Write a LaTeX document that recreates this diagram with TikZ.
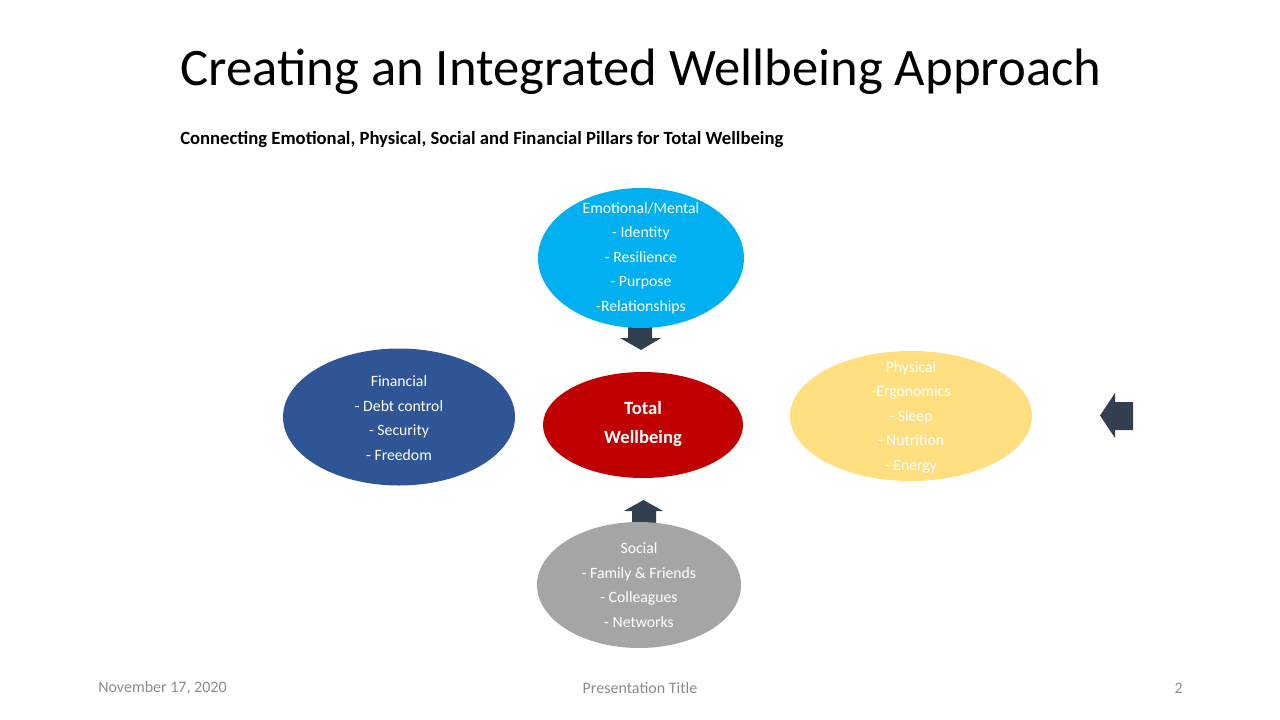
\documentclass[tikz,border=0pt]{standalone}
\usepackage{fontspec}
\setmainfont{Carlito}
\usetikzlibrary{shapes.geometric}

\definecolor{emoblu}{HTML}{00B0F0}
\definecolor{finblu}{HTML}{2F5597}
\definecolor{totrosso}{HTML}{C00000}
\definecolor{fisgiallo}{HTML}{FFDF80}
\definecolor{socgrigio}{HTML}{A5A5A5}
\definecolor{freccia}{HTML}{323F4F}
\definecolor{piede}{HTML}{8C8C8C}

\begin{document}
\begin{tikzpicture}[x=0.75pt, y=-0.75pt,
    pilastro/.style={ellipse, inner sep=0pt},
    testo/.style={inner sep=0pt, align=center, text=white,
        font=\fontsize{11.8}{18.4}\selectfont},
    piede/.style={inner sep=0pt, text=piede, font=\fontsize{12}{14}\selectfont},
    freccetta/.style={fill=freccia}]

    % Area della slide
    \useasboundingbox (0,0) rectangle (1280,720);

    % Titolo e sottotitolo
    \node[inner sep=0pt, font=\fontsize{39.5}{47}\selectfont] (titolo) at (641,72)
        {Creating an Integrated Wellbeing Approach};
    \node[anchor=west, inner sep=0pt, font=\bfseries\fontsize{14}{16}\selectfont] (sottotitolo) at (180,140)
        {Connecting Emotional, Physical, Social and Financial Pillars for Total Wellbeing};

    % Frecce a blocco (sotto le ellissi)
    \fill[freccetta] (628,320) -- (652,320) -- (652,338) -- (661,338)
        -- (641,350) -- (620,338) -- (628,338) -- cycle;
    \fill[freccetta] (632,526) -- (656,526) -- (656,511) -- (663,511)
        -- (643.5,500) -- (624,511) -- (632,511) -- cycle;
    \fill[freccetta] (1133,402) -- (1115,402) -- (1115,393) -- (1100,415.5)
        -- (1115,438) -- (1115,430) -- (1133,430) -- cycle;

    % I quattro pilastri e il centro
    \node[pilastro, fill=emoblu, minimum width=154.5pt, minimum height=105pt] (emo) at (641,258) {};
    \node[pilastro, fill=finblu, minimum width=174pt, minimum height=102.75pt] (fin) at (399,417) {};
    \node[pilastro, fill=totrosso, minimum width=150pt, minimum height=79.5pt] (tot) at (643,425) {};
    \node[pilastro, fill=fisgiallo, minimum width=181.5pt, minimum height=97.5pt] (fis) at (911,416) {};
    \node[pilastro, fill=socgrigio, minimum width=153pt, minimum height=94.5pt] (soc) at (639,585) {};

    % Testi dei pilastri
    \node[testo] (emo-t) at (641,258)
        {Emotional/Mental\\- Identity\\- Resilience\\- Purpose\\-Relationships};
    \node[testo] (fin-t) at (399,418)
        {Financial\\- Debt control\\- Security\\- Freedom};
    \node[testo, font=\bfseries\fontsize{14}{21.75}\selectfont] (tot-t) at (643,424.5)
        {Total\\Wellbeing};
    \node[testo] (fis-t) at (911,417)
        {Physical\\-Ergonomics\\- Sleep\\- Nutrition\\- Energy};
    \node[testo] (soc-t) at (639,585)
        {Social\\- Family \& Friends\\- Colleagues\\- Networks};

    % Piè di pagina
    \node[piede, anchor=west] (data) at (98,688) {November 17, 2020};
    \node[piede] (pres) at (640,688) {Presentation Title};
    \node[piede, anchor=east] (pagina) at (1183,688) {2};

\end{tikzpicture}
\end{document}
